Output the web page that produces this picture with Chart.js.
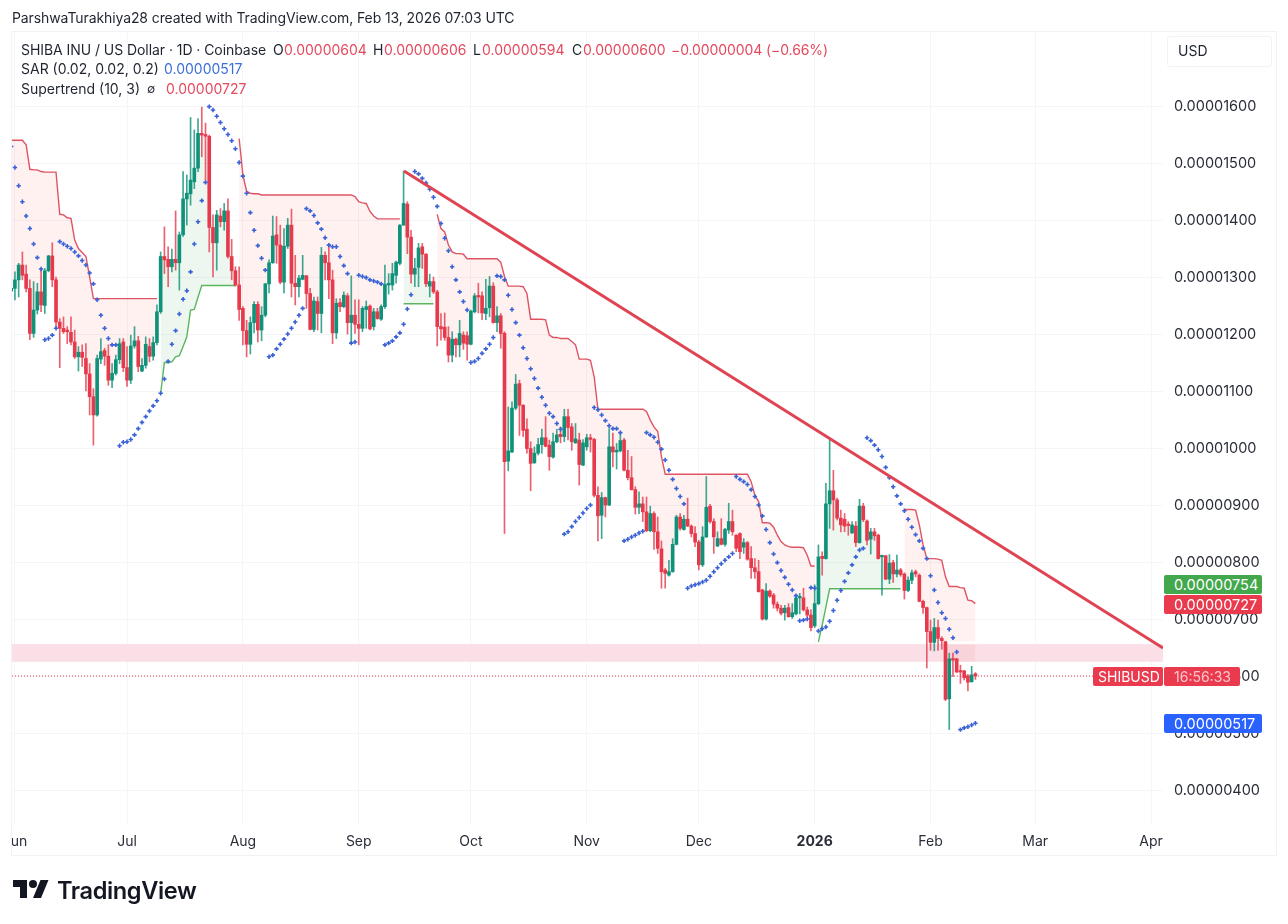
<!DOCTYPE html>
<html><head><meta charset="utf-8">
<script src="https://cdn.jsdelivr.net/npm/chart.js@4"></script>
<style>
html,body{margin:0;padding:0;background:#fff;width:1288px;height:924px;overflow:hidden}
body{font-family:Inter,"Noto Sans",sans-serif;color:#1f2430;position:relative}
canvas{position:absolute;left:0;top:0}
.t{position:absolute;white-space:nowrap;font-size:14px;line-height:18px}
.frame{position:absolute;left:11px;top:31px;width:1264px;height:823px;border:1px solid #f0f2f7;box-sizing:content-box}
.usd{position:absolute;left:1167px;top:36px;width:103px;height:29px;border:1px solid #f0f2f7;border-radius:3px;background:#fff}
.pl{position:absolute;height:19px;line-height:19px;border-radius:2px;color:#fff;font-size:14.5px;white-space:nowrap;box-sizing:border-box}
.r{color:#e5485c}.b{color:#3b6fd8}
</style></head><body>
<canvas id="c" width="1288" height="924"></canvas>
<div class="frame"></div>
<div class="t" style="left:12px;top:9px;letter-spacing:-.1px">ParshwaTurakhiya28 created with TradingView.com, Feb 13, 2026 07:03 UTC</div>
<div class="t" style="left:21px;top:41px;letter-spacing:-.06px">SHIBA INU / US Dollar · 1D · Coinbase</div>
<div class="t" style="left:273px;top:41px">O</div><div class="t r" style="left:284px;top:41px">0.00000604</div>
<div class="t" style="left:373px;top:41px">H</div><div class="t r" style="left:384px;top:41px">0.00000606</div>
<div class="t" style="left:473px;top:41px">L</div><div class="t r" style="left:482px;top:41px">0.00000594</div>
<div class="t" style="left:572px;top:41px">C</div><div class="t r" style="left:583px;top:41px">0.00000600</div>
<div class="t r" style="left:671px;top:41px;letter-spacing:-.1px">−0.00000004 (−0.66%)</div>
<div class="t" style="left:21px;top:60px">SAR (0.02, 0.02, 0.2)</div><div class="t b" style="left:164px;top:60px">0.00000517</div>
<div class="t" style="left:21px;top:80px">Supertrend (10, 3)</div><div class="t" style="left:147px;top:80px;font-size:12px">∅</div><div class="t r" style="left:166px;top:80px">0.00000727</div>
<div class="usd"></div><div class="t" style="left:1178px;top:42px">USD</div>
<div class="pl" style="left:1164px;top:575px;width:98px;background:#43a84c;padding-left:10px">0.00000754</div>
<div class="pl" style="left:1164px;top:595px;width:98px;background:#ea3a4e;padding-left:10px">0.00000727</div>
<div class="pl" style="left:1164px;top:714px;width:98px;background:#2962ff;padding-left:10px">0.00000517</div>
<div class="pl" style="left:1093px;top:667px;width:70px;background:#ea3a4e;padding-left:5px;font-size:14px">SHIBUSD</div>
<div class="pl" style="left:1164px;top:667px;width:76px;background:#ea3a4e;color:#fbc6cc;padding-left:10px;font-size:14px">16:56:33</div>
<svg style="position:absolute;left:13px;top:876px" width="36" height="28" viewBox="0 0 36 28"><path fill="#131722" d="M14 22H7V11H0V4h14v18zM28 22h-8l7.5-18h8L28 22z"/><circle fill="#131722" cx="20" cy="8" r="4"/></svg>
<div class="t" style="left:57px;top:876px;font-size:23.6px;line-height:30px;font-weight:600;letter-spacing:-.4px;color:#131722">TradingView</div>
<script>
const _ = null;
const firstDay = -1;
const opens = [1275,
1280,1295,1321,1305,1280,1201,1242,1274,1250,1311,
1337,1295,1221,1210,1207,1203,1186,1160,1168,1157,
1130,1090,1058,1156,1171,1161,1119,1131,1155,1186,
1141,1119,1179,1188,1135,1145,1178,1161,1185,1239,
1336,1331,1318,1331,1325,1374,1437,1446,1467,1491,
1552,1550,1547,1387,1360,1407,1397,1416,1336,1311,
1286,1245,1206,1182,1220,1252,1207,1233,1288,1325,
1374,1356,1291,1354,1391,1289,1283,1296,1302,1271,
1208,1257,1236,1338,1325,1295,1202,1255,1248,1267,
1220,1233,1217,1210,1243,1249,1213,1239,1226,1248,
1286,1286,1303,1324,1391,1428,1370,1305,1317,1353,
1340,1284,1292,1274,1213,1212,1194,1163,1191,1181,
1198,1197,1182,1239,1267,1267,1236,1246,1284,1220,
1232,1201,977,993,1070,1113,1075,1033,999,974,
991,1006,1018,1005,984,1011,1024,1020,1055,1037,
1009,1014,970,1002,1018,1015,917,882,913,900,
1002,993,995,1014,961,948,927,896,902,888,
855,885,853,823,786,777,783,831,879,857,
875,863,850,835,795,844,898,871,828,841,
831,856,871,847,850,826,834,806,790,783,
751,700,749,742,726,719,711,720,704,709,
737,737,716,707,688,727,810,806,902,925,
909,877,875,865,851,863,834,898,872,840,
853,847,809,811,770,799,779,786,779,750,
768,783,777,731,720,678,659,685,666,660,
560,630,630,609,609,600,590,604];
const closes = [1280,
1295,1321,1303,1280,1201,1242,1274,1251,1311,1337,
1295,1221,1210,1204,1204,1186,1160,1168,1159,1130,
1090,1058,1157,1169,1161,1119,1131,1155,1183,1141,
1119,1179,1188,1143,1145,1182,1161,1185,1239,1336,
1330,1318,1331,1325,1374,1437,1447,1470,1491,1552,
1549,1547,1387,1360,1409,1397,1416,1336,1311,1286,
1243,1206,1182,1220,1252,1207,1233,1288,1325,1372,
1356,1291,1354,1391,1289,1283,1298,1303,1271,1208,
1258,1236,1338,1325,1295,1202,1254,1248,1268,1220,
1233,1217,1210,1245,1248,1209,1239,1227,1248,1287,
1289,1306,1326,1391,1429,1370,1305,1315,1351,1340,
1288,1292,1274,1213,1209,1194,1163,1191,1181,1201,
1184,1182,1240,1267,1265,1237,1245,1284,1220,1232,
1201,976,995,1070,1112,1075,1031,999,973,991,
1006,1018,1003,985,1011,1023,1020,1055,1036,1011,
1016,971,1009,1018,1015,917,881,913,900,1002,
993,996,1013,961,948,927,896,902,888,855,
885,853,824,783,780,783,831,879,859,875,
863,850,835,795,844,896,871,844,841,831,
857,871,853,824,818,834,805,790,783,748,
700,749,740,726,719,710,719,704,711,737,
738,716,707,685,727,809,806,902,925,909,
877,865,863,864,865,834,898,874,838,853,
846,806,811,770,798,779,786,778,750,768,
781,779,731,720,678,659,685,666,662,559,
630,628,607,607,597,589,602,600];
const highs = [1300,
1309,1324,1344,1321,1295,1292,1289,1312,1315,1338,
1360,1300,1227,1230,1213,1230,1207,1178,1181,1183,
1148,1104,1163,1192,1175,1181,1148,1163,1192,1192,
1178,1198,1213,1196,1157,1195,1192,1195,1251,1344,
1388,1353,1349,1416,1379,1485,1479,1580,1558,1578,
1598,1570,1549,1409,1417,1420,1429,1437,1366,1318,
1318,1248,1224,1230,1257,1257,1248,1289,1330,1407,
1406,1391,1385,1403,1419,1338,1303,1338,1303,1280,
1265,1265,1352,1344,1356,1312,1262,1262,1274,1271,
1302,1260,1260,1248,1258,1251,1245,1245,1251,1321,
1306,1324,1328,1392,1486,1432,1382,1333,1359,1359,
1341,1305,1300,1277,1236,1237,1213,1204,1193,1224,
1204,1204,1242,1271,1289,1274,1296,1301,1290,1248,
1236,1204,1072,1081,1129,1119,1076,1051,1011,1002,
1017,1033,1055,1014,1026,1033,1037,1068,1068,1043,
1043,1026,1015,1024,1024,1017,932,922,914,1034,
1026,1008,1026,1017,996,985,932,923,914,914,
898,888,879,837,789,803,841,882,885,882,
912,865,862,838,862,950,901,876,853,876,
859,903,891,848,851,841,836,827,806,803,
752,762,751,745,730,724,724,727,727,742,
745,754,721,716,760,830,818,938,1014,961,
912,891,885,871,871,871,910,903,874,859,
859,849,812,812,813,803,812,789,781,774,
786,786,779,733,721,698,701,698,669,661,
640,640,631,619,610,603,617,606];
const lows = [1224,
1260,1265,1295,1274,1190,1194,1235,1239,1236,1309,
1283,1213,1141,1201,1183,1181,1157,1135,1143,1100,
1058,1005,1056,1148,1145,1110,1106,1128,1148,1134,
1108,1113,1175,1134,1134,1140,1151,1154,1181,1236,
1306,1283,1309,1312,1277,1371,1391,1426,1455,1485,
1511,1470,1344,1300,1312,1388,1382,1333,1295,1284,
1224,1181,1160,1165,1202,1186,1188,1230,1272,1324,
1324,1288,1272,1350,1265,1251,1265,1295,1245,1207,
1204,1207,1202,1295,1262,1183,1192,1239,1246,1200,
1184,1201,1181,1204,1210,1207,1207,1226,1224,1245,
1270,1277,1289,1321,1391,1341,1289,1283,1283,1315,
1283,1265,1271,1179,1189,1189,1151,1151,1160,1160,
1173,1154,1181,1237,1237,1225,1225,1230,1219,1204,
1175,850,960,992,1067,1022,1020,991,925,973,
988,991,1002,961,982,1009,1009,1011,1014,996,
1008,935,969,996,993,914,837,841,879,899,
967,963,993,960,944,926,884,885,871,853,
853,822,815,754,754,775,782,830,856,856,
862,844,827,786,792,843,868,815,827,830,
828,850,847,818,806,815,803,771,771,747,
698,698,738,719,714,707,698,703,701,707,
709,714,704,679,685,725,777,805,859,856,
874,853,853,847,850,827,833,871,830,814,
838,805,742,769,762,764,774,775,735,748,
762,774,730,710,614,645,644,645,647,557,
506,599,606,587,593,574,589,594];
const sar = [1529,
1492,1460,1432,1407,1385,1358,1334,1314,1190,1192,
1198,1210,1362,1358,1354,1350,1344,1337,1329,1321,
1307,1288,1260,1233,1210,1192,1181,1181,1004,1010,
1011,1015,1023,1034,1045,1055,1065,1074,1083,1096,
1121,1152,1182,1206,1235,1261,1276,1309,1358,1397,
1434,1466,1599,1593,1582,1571,1560,1550,1539,1525,
1501,1477,1447,1413,1382,1355,1333,1312,1160,1163,
1174,1182,1191,1200,1210,1221,1233,1245,1420,1416,
1408,1395,1384,1369,1356,1353,1353,1336,1320,1306,
1184,1186,1303,1301,1299,1295,1293,1291,1288,1181,
1184,1188,1195,1202,1217,1244,1269,1485,1481,1473,
1465,1454,1440,1424,1394,1368,1346,1318,1295,1274,
1257,1242,1150,1152,1157,1166,1174,1182,1194,1302,
1301,1295,1268,1243,1220,1198,1176,1157,1139,1122,
1105,1089,1075,1061,1055,1043,1033,849,853,862,
871,878,886,894,900,1071,1067,1058,1048,1039,
1034,1034,1027,837,840,844,847,851,854,1027,
1023,1019,1010,998,979,961,945,929,915,902,
754,758,760,762,765,768,775,783,790,797,
803,809,815,950,945,941,936,927,915,900,
881,857,834,814,799,785,773,761,751,741,
697,698,700,755,754,679,683,686,696,715,
733,750,766,781,795,809,821,824,1018,1013,
1005,997,985,966,948,932,916,902,890,875,
861,848,837,824,806,776,751,729,711,701,
682,667,642,506,509,511,514,517];
const stUpper = [1540,
1540,1540,1540,1532,1489,1488,1488,1485,1484,1484,
1484,1484,1410,1409,1404,1403,1365,1350,1343,1336,
1300,1262,1262,1262,1262,1262,1262,1262,1262,1262,
1262,1262,1262,1262,1262,1262,1262,1262,1262,_,
_,_,_,_,_,_,_,_,_,_,
_,_,_,_,_,_,_,_,_,_,
1543,1479,1450,1447,1446,1446,1444,1444,1444,1444,
1444,1444,1444,1444,1444,1444,1444,1444,1444,1444,
1444,1444,1444,1444,1444,1444,1444,1444,1444,1444,
1444,1441,1432,1430,1429,1415,1407,1402,1402,1402,
1402,1402,1402,1402,_,_,_,_,_,_,
_,_,_,1410,1385,1379,1356,1344,1341,1341,
1340,1332,1332,1332,1332,1332,1332,1332,1332,1332,
1326,1301,1284,1284,1284,1284,1283,1271,1226,1226,
1226,1226,1225,1198,1194,1194,1192,1192,1192,1187,
1181,1156,1156,1156,1154,1125,1068,1068,1068,1068,
1068,1068,1068,1068,1068,1068,1068,1068,1068,1064,
1049,1037,1029,985,954,954,954,954,954,954,
954,954,954,954,954,954,954,954,954,954,
954,954,954,954,954,954,954,941,917,906,
869,869,868,861,847,836,830,827,826,826,
826,825,812,793,793,_,_,_,_,_,
_,_,_,_,_,_,_,_,_,_,
_,_,_,_,_,_,_,_,892,892,
892,891,865,830,806,806,806,805,803,774,
757,757,757,755,754,733,732,727];
const stLower = [_,
_,_,_,_,_,_,_,_,_,_,
_,_,_,_,_,_,_,_,_,_,
_,_,_,_,_,_,_,_,_,_,
_,_,_,_,_,_,_,_,_,1096,
1150,1150,1151,1160,1162,1178,1195,1242,1243,1265,
1285,1285,1285,1285,1285,1285,1285,1285,1285,1285,
_,_,_,_,_,_,_,_,_,_,
_,_,_,_,_,_,_,_,_,_,
_,_,_,_,_,_,_,_,_,_,
_,_,_,_,_,_,_,_,_,_,
_,_,_,_,1253,1253,1253,1253,1253,1253,
1253,1253,1253,_,_,_,_,_,_,_,
_,_,_,_,_,_,_,_,_,_,
_,_,_,_,_,_,_,_,_,_,
_,_,_,_,_,_,_,_,_,_,
_,_,_,_,_,_,_,_,_,_,
_,_,_,_,_,_,_,_,_,_,
_,_,_,_,_,_,_,_,_,_,
_,_,_,_,_,_,_,_,_,_,
_,_,_,_,_,_,_,_,_,_,
_,_,_,_,_,_,_,_,_,_,
_,_,_,_,_,660,689,721,753,753,
753,753,753,753,753,753,753,753,753,753,
753,753,753,753,753,753,753,753,_,_,
_,_,_,_,_,_,_,_,_,_,
_,_,_,_,_,_,_,_];
const monthDays = [0,30,61,92,122,153,183,214,245,273,304];
const monthLabels = ['Jun','Jul','Aug','Sep','Oct','Nov','Dec','2026','Feb','Mar','Apr'];
const priceTicks = [400,500,600,700,800,900,1000,1100,1200,1300,1400,1500,1600];
const trendX = [104.1,307.2];
const trendY = [1486,649];
const lastPrice = 600;
const zoneTop = 656, zoneBottom = 625;
const zoneGapTop = 661, zoneGapFrom = 249.6, zoneGapTo = 257.6;

[closes,highs,lows,sar,stUpper,stLower].forEach((a,i)=>{ if(a.length!==opens.length) throw new Error('len '+i+' '+a.length+' vs '+opens.length); });

const days = opens.map((_v,i)=>i+firstDay);
const RED='#e63a4c', GREEN='#0f9279';
const candleColor = opens.map((o,i)=>closes[i]>=o?GREEN:RED);
const wickColor = opens.map((o,i)=>closes[i]>=o?'rgba(15,146,121,.8)':'rgba(230,58,76,.8)');
const bodyMid = opens.map((o,i)=>(o+closes[i])/2);
const pts = a => days.map((d,i)=>({x:d,y:a[i]}));

const zonePlugin = {
  id:'zone',
  beforeDatasetsDraw(ch){
    const {ctx,chartArea:a,scales:{y}} = ch;
    const t=y.getPixelForValue(zoneTop), b=y.getPixelForValue(zoneBottom);
    ctx.save(); ctx.fillStyle='#fadfe7'; ctx.fillRect(a.left,t,a.right-a.left,b-t); ctx.restore();
  },
  afterDatasetsDraw(ch){
    const {ctx,scales:{x,y}} = ch;
    const l=x.getPixelForValue(zoneGapFrom), r=x.getPixelForValue(zoneGapTo);
    const t=y.getPixelForValue(zoneGapTop), b=y.getPixelForValue(zoneTop);
    ctx.save(); ctx.fillStyle='#fff'; ctx.fillRect(l,t,r-l,b-t); ctx.restore();
  },
  afterDraw(ch){
    const {ctx,chartArea:a} = ch;
    ctx.save(); ctx.fillStyle='#fff'; ctx.fillRect(0,a.bottom+1,a.left,28); ctx.restore();
  }
};

new Chart(document.getElementById('c'),{
  data:{datasets:[
    {type:'line',label:'Body mid',data:pts(bodyMid.map(v=>Math.max(v,zoneBottom))),borderWidth:0,borderColor:'transparent',pointRadius:0,order:9},
    {type:'line',label:'Supertrend down',data:pts(stUpper),borderColor:'#df5465',borderWidth:1.4,pointRadius:0,tension:0,
      fill:{target:0},backgroundColor:'rgba(242,90,85,.085)',order:8},
    {type:'line',label:'Supertrend up',data:pts(stLower),borderColor:'#5cb660',borderWidth:1.4,pointRadius:0,tension:0,
      fill:{target:0},backgroundColor:'rgba(60,175,90,.095)',order:8},
    {type:'bar',label:'Wicks',data:days.map((d,i)=>({x:d,y:[lows[i],highs[i]]})),backgroundColor:wickColor,barThickness:1,grouped:false,order:4,borderSkipped:false},
    {type:'bar',label:'Bodies',data:days.map((d,i)=>({x:d,y:[opens[i],closes[i]]})),backgroundColor:candleColor,barThickness:3,minBarLength:1.5,grouped:false,order:3,borderSkipped:false},
    {type:'line',label:'Last price',data:[{x:-0.78,y:lastPrice},{x:307.2,y:lastPrice}],borderColor:'#e63a4c',borderWidth:1,borderDash:[1,2],pointRadius:0,order:5},
    {type:'line',label:'SAR',data:pts(sar),showLine:false,pointStyle:'cross',pointRadius:2.2,pointBorderWidth:1.6,pointBorderColor:'#3a62d6',pointBackgroundColor:'#3a62d6',order:2},
    {type:'line',label:'Trend',data:trendX.map((x,i)=>({x,y:trendY[i]})),borderColor:'#df4453',borderWidth:3,pointRadius:0,order:1}
  ]},
  options:{
    responsive:false,animation:false,devicePixelRatio:1,events:[],
    layout:{padding:{left:12,top:31,right:13,bottom:69}},
    plugins:{legend:{display:false},tooltip:{enabled:false}},
    scales:{
      x:{type:'linear',min:-0.78,max:307.2,offset:false,
        afterBuildTicks(s){s.ticks=monthDays.map(v=>({value:v}));},
        afterFit(s){s.height=30;s.paddingLeft=0;s.paddingRight=0;},
        border:{display:false},
        grid:{color:'#f3f5f9',drawTicks:false,offset:false},
        ticks:{autoSkip:false,maxRotation:0,minRotation:0,padding:8,color:'#2a2e39',
          font:c=>({family:'Inter',size:14,weight:monthLabels[c.index]==='2026'?'700':'400'}),
          callback:(v,i)=>monthLabels[i]}
      },
      y:{type:'linear',position:'right',min:338.6,max:1731.6,
        afterBuildTicks(s){s.ticks=priceTicks.map(v=>({value:v}));},
        afterFit(s){s.width=112;s.paddingTop=0;s.paddingBottom=0;},
        border:{display:false},
        grid:{color:'#f3f5f9',drawTicks:false},
        ticks:{autoSkip:false,padding:11,labelOffset:1,color:'#2a2e39',font:{family:'Inter',size:14.5},
          callback:v=>(v/1e8).toFixed(8)}
      }
    }
  },
  plugins:[zonePlugin]
});
</script>
</body></html>
